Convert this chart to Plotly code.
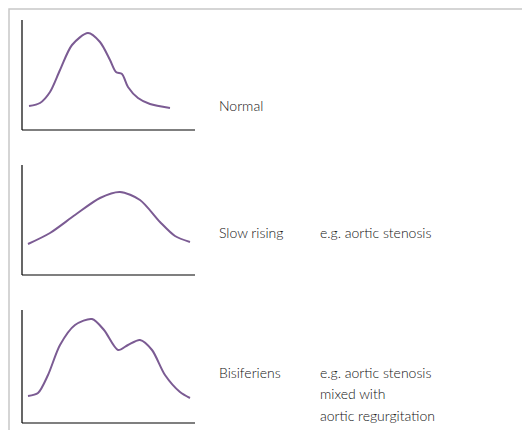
import plotly.graph_objects as go

# pulse waveforms (pixel space of the drawing)
normal_x = [29, 40, 50, 60, 72, 88, 100, 110, 116, 122, 128, 138, 150, 170]
normal_y = [106, 103, 92, 70, 45, 33, 42, 60, 72, 74, 87, 98, 104, 108]
slow_x = [28, 50, 75, 100, 120, 140, 160, 175, 190]
slow_y = [244, 233, 215, 198, 192, 200, 222, 236, 242]
bis_x = [28, 38, 48, 60, 75, 92, 104, 118, 128, 140, 152, 165, 180, 190]
bis_y = [396, 393, 375, 345, 325, 319, 330, 350, 345, 340, 350, 375, 392, 398]

labels = ["Normal", "Slow rising", "Bisiferiens"]
label_y = [105, 232, 372]
notes = [[], ["e.g. aortic stenosis"], ["e.g. aortic stenosis", "mixed with", "aortic regurgitation"]]

panels = [(20, 130), (165, 275), (310, 423)]

OFF = 8  # page body offset
fig = go.Figure()
col = "#7b5b93"
for xs, ys in [(normal_x, normal_y), (slow_x, slow_y), (bis_x, bis_y)]:
    fig.add_trace(go.Scatter(x=xs, y=ys, mode="lines", line=dict(color=col, width=2, shape="spline", smoothing=0.8),
                             hoverinfo="skip", showlegend=False))

shapes = []
for top, bot in panels:
    shapes.append(dict(type="line", x0=22, x1=22, y0=top, y1=bot, line=dict(color="black", width=1.2)))
    shapes.append(dict(type="line", x0=22, x1=195, y0=bot, y1=bot, line=dict(color="black", width=1.2)))
shapes.append(dict(type="rect", x0=1 + OFF, x1=519 + OFF, y0=1 + OFF, y1=445, line=dict(color="#c8c8c8", width=1.5)))

font = dict(family="Lato", size=14, color="#111", weight=300)
ann = []
for lab, y, note in zip(labels, label_y, notes):
    ann.append(dict(x=217, y=y, text=lab, showarrow=False, xanchor="left", yanchor="middle", font=font))
    for i, line in enumerate(note):
        ann.append(dict(x=318, y=y + 21.5 * i, text=line, showarrow=False, xanchor="left", yanchor="middle",
                        font=font))

fig.update_layout(width=530, height=430, margin=dict(l=0, r=0, t=0, b=0),
                  paper_bgcolor="white", plot_bgcolor="white",
                  xaxis=dict(range=[OFF, 530 + OFF], visible=False, fixedrange=True),
                  yaxis=dict(range=[430 + OFF, OFF], visible=False, fixedrange=True),
                  shapes=shapes, annotations=ann)
fig.write_html("out.html")
